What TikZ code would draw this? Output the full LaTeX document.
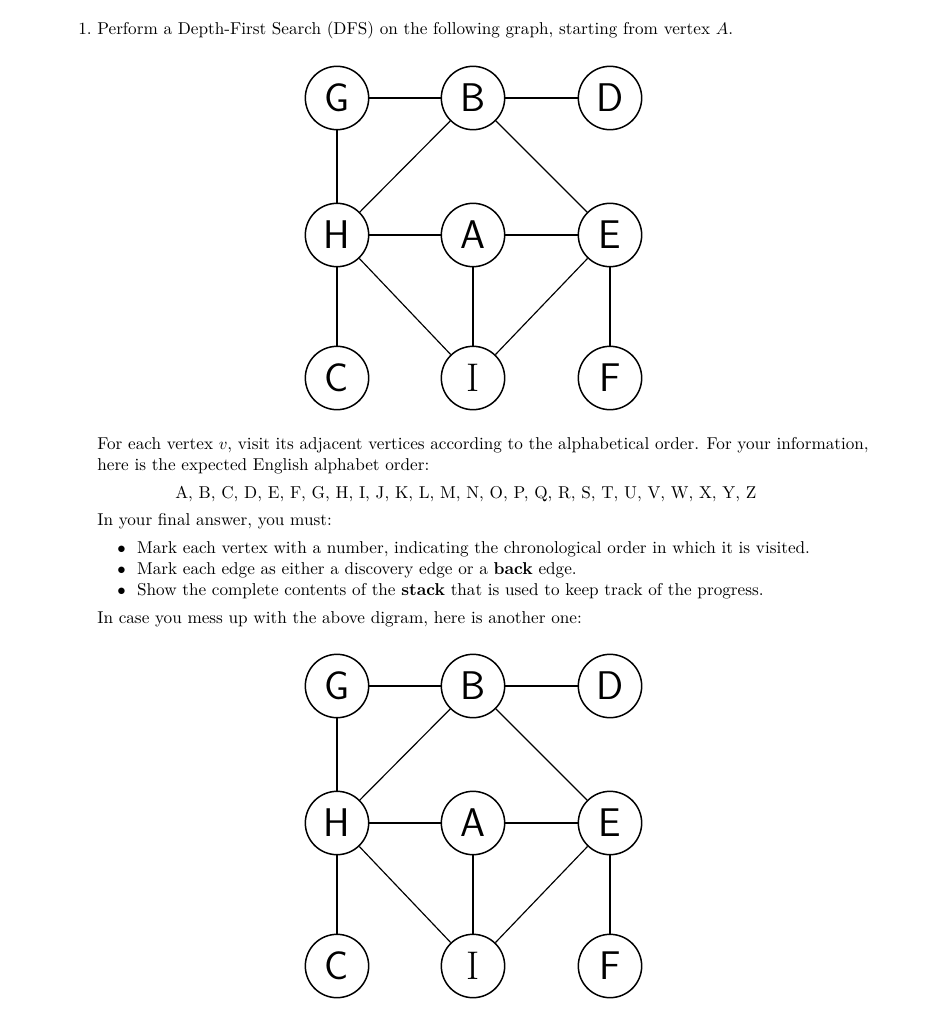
\documentclass[tikz,border=0pt]{standalone}
\usepackage{amsmath}
\usetikzlibrary{positioning}
\tikzstyle{vertexStyle} = [circle, draw=black, line width=0.9pt, fill=white, minimum size=38pt, inner sep=0pt, font=\fontsize{24}{24}\sffamily]
\tikzstyle{edgeStyle} = [line width=0.7pt]
\tikzstyle{bodyText} = [anchor=west, inner sep=0pt, font=\fontsize{10.3}{12.4}\selectfont]
\newcommand{\dfsGraph}[2]{
  \node [vertexStyle] (#1G) at (337, #2) {G};
  \node [vertexStyle] (#1B) at (473, #2) {B};
  \node [vertexStyle] (#1D) at (610, #2) {D};
  \node [vertexStyle] (#1H) at (337, #2 + 137) {H};
  \node [vertexStyle] (#1A) at (473, #2 + 137) {A};
  \node [vertexStyle] (#1E) at (610, #2 + 137) {E};
  \node [vertexStyle] (#1C) at (337, #2 + 280) {C};
  \node [vertexStyle, font=\fontsize{24}{24}\rmfamily] (#1I) at (473, #2 + 280) {I};
  \node [vertexStyle] (#1F) at (610, #2 + 280) {F};
  \foreach \u/\v in {G/B, B/D, G/H, B/H, B/E, H/A, A/E, H/C, H/I, A/I, I/E, E/F} {
    \draw [edgeStyle] (#1\u) -- (#1\v);
  }
}
\begin{document}
\begin{tikzpicture}[x=0.6pt, y=-0.6pt]
  \useasboundingbox (0,0) rectangle (933,1024);
  \node [bodyText] (title) at (78,30) {1.\ Perform a Depth-First Search (DFS) on the following graph, starting from vertex $A$.};
  \dfsGraph{one}{98}
  \node [bodyText, anchor=north west, align=left] (info) at (97,437) {For each vertex $v$, visit its adjacent vertices according to the alphabetical order. For your information,\\ here is the expected English alphabet order:};
  \node [bodyText] (alpha) at (175,494) {A, B, C, D, E, F, G, H, I, J, K, L, M, N, O, P, Q, R, S, T, U, V, W, X, Y, Z};
  \node [bodyText] (must) at (97,521) {In your final answer, you must:};
  \node [bodyText] (markv) at (117,549) {$\bullet$\ \ Mark each vertex with a number, indicating the chronological order in which it is visited.};
  \node [bodyText] (marke) at (117,570) {$\bullet$\ \ Mark each edge as either a discovery edge or a \textbf{back} edge.};
  \node [bodyText] (stack) at (117,591) {$\bullet$\ \ Show the complete contents of the \textbf{stack} that is used to keep track of the progress.};
  \node [bodyText] (again) at (97,619) {In case you mess up with the above digram, here is another one:};
  \dfsGraph{two}{686}
\end{tikzpicture}
\end{document}
